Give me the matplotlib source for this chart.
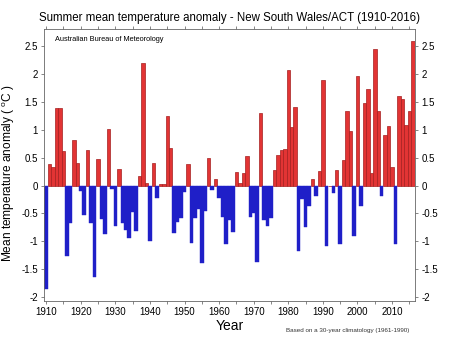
import numpy as np
import matplotlib
matplotlib.use('Agg')
import matplotlib.pyplot as plt
from matplotlib.ticker import MultipleLocator

years = list(range(1910, 2017))

# anomaly (degC), 1910..2016
anom = [
    -1.86, 0.39, 0.33, 1.39, 1.39, 0.62, -1.27, -0.68, 0.82, 0.41,   # 1910s
    -0.10, -0.52, 0.63, -0.67, -1.64, 0.48, -0.60, -0.86, 1.01, -0.07,  # 1920s
    -0.73, 0.30, -0.67, -0.80, -0.94, -0.47, -0.82, 0.17, 2.20, 0.05,  # 1930s
    -1.00, 0.40, -0.22, 0.03, 0.02, 1.25, 0.67, -0.85, -0.65, -0.58,   # 1940s
    -0.12, 0.39, -1.03, -0.58, -0.42, -1.38, -0.45, 0.49, -0.08, 0.12, # 1950s
    -0.22, -0.57, -1.04, -0.61, -0.84, 0.24, 0.05, 0.23, 0.53, -0.56,  # 1960s
    -0.49, -1.37, 1.29, -0.62, -0.73, -0.58, 0.27, 0.54, 0.63, 0.66,   # 1970s
    2.06, 1.05, 1.40, -1.18, -0.25, -0.74, -0.36, 0.11, -0.19, 0.26,   # 1980s
    1.88, -1.09, 0.00, -0.14, 0.27, -1.04, 0.45, 1.34, 0.97, -0.91,    # 1990s
    1.96, -0.36, 1.47, 1.72, 0.23, 2.44, 1.34, -0.18, 0.91, 1.06,      # 2000s
    0.33, -1.04, 1.61, 1.54, 1.09, 1.34, 2.58,                         # 2010s
]

title = 'Summer mean temperature anomaly - New South Wales/ACT (1910-2016)'

plt.rcParams['font.family'] = ['Liberation Sans', 'DejaVu Sans']

fig = plt.figure(figsize=(4.5, 3.38), dpi=100)
ax = fig.add_axes([0.098, 0.109, 0.824, 0.805])

yr = np.array(years)
a = np.array(anom)
pos = a >= 0
ax.bar(yr[pos], a[pos], width=1.0, color='#e23434', edgecolor='#a51f1f', linewidth=0.5)
ax.bar(yr[~pos], a[~pos], width=1.0, color='#1f1fc8', edgecolor='#1f1fc8', linewidth=0.3)

ax.set_xlim(1909.4, 2016.6)
ax.set_ylim(-2.07, 2.8)
ax.xaxis.set_major_locator(MultipleLocator(10))
ax.xaxis.set_minor_locator(MultipleLocator(5))
ax.set_yticks(np.arange(-2, 2.51, 0.5))
ax.set_yticklabels(['-2', '-1.5', '-1', '-0.5', '0', '0.5', '1', '1.5', '2', '2.5'])

ax.tick_params(axis='both', which='both', direction='out', length=2.5, width=0.5,
               color='#555555', labelsize=7, pad=2,
               top=True, right=True, labelright=True)
for s in ax.spines.values():
    s.set_linewidth(0.6)
    s.set_color('#666666')

ax.set_xlabel('Year', fontsize=10, labelpad=1)
ax.set_ylabel('Mean temperature anomaly ( $\\mathregular{^{o}}$C )', fontsize=8.6)
ax.yaxis.set_label_coords(-0.072, 0.47)

fig.text(0.51, 0.948, title, ha='center', va='center', fontsize=8.3)
ax.text(0.03, 0.975, 'Australian Bureau of Meteorology', transform=ax.transAxes,
        ha='left', va='top', fontsize=5.3)
fig.text(0.91, 0.022, 'Based on a 30-year climatology (1961-1990)', ha='right',
         va='center', fontsize=4.5, color='#333333')

fig.savefig('out.png', dpi=100)
